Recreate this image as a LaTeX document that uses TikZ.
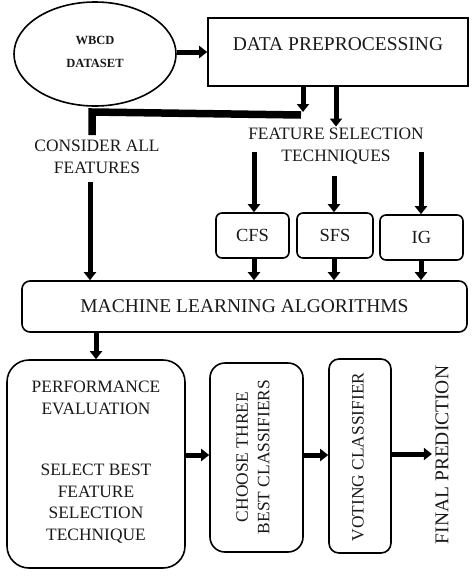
\documentclass[tikz,border=0pt]{standalone}
\usepackage{fontspec}
\setmainfont{Liberation Serif}
\usetikzlibrary{arrows.meta,shapes.geometric}
\tikzset{
  box/.style={draw=black, line width=1.6pt, inner sep=0pt},
  rbox/.style={box, rounded corners=#1},
  conn/.style={line width=5pt, -{Triangle[length=8pt,width=12pt]}},
  bigtxt/.style={font=\fontsize{19.5}{23}\selectfont, text=black!90},
  txt/.style={font=\fontsize{17.4}{21.5}\selectfont, text=black!90, align=center},
  smtxt/.style={font=\fontsize{18.5}{22}\selectfont, text=black!90},
}
\begin{document}
\begin{tikzpicture}[x=1pt,y=-1pt]
\useasboundingbox (0,0) rectangle (474,582);
% nodes
\node[box, ellipse, minimum width=162pt, minimum height=104pt] (ell) at (95,54) {};
\node[font=\bfseries\fontsize{12.5}{23}\selectfont, align=center, text=black!90] (elltxt) at (95,52) {WBCD\\DATASET};
\node[box, minimum width=260pt, minimum height=68pt] (pp) at (338,52) {};
\node[bigtxt] (pptxt) at (338,44) {DATA PREPROCESSING};
\node[txt] (cons) at (97,157) {CONSIDER ALL\\FEATURES};
\node[txt] (fst) at (336,146) {FEATURE SELECTION\\TECHNIQUES};
\node[rbox=6pt, minimum width=73pt, minimum height=45pt, smtxt] (cfs) at (252.5,235.5) {CFS};
\node[rbox=6pt, minimum width=76pt, minimum height=45pt, smtxt] (sfs) at (335,235.5) {SFS};
\node[rbox=6pt, minimum width=83pt, minimum height=45pt, smtxt] (ig) at (421.5,237.5) {IG};
\node[rbox=8pt, minimum width=445pt, minimum height=51pt, bigtxt] (ml) at (244.5,306.5) {MACHINE LEARNING ALGORITHMS};
\node[rbox=22pt, minimum width=178pt, minimum height=208pt] (perf) at (96,464) {};
\node[txt] (perftxt) at (96,462) {PERFORMANCE\\EVALUATION\\[40pt]SELECT BEST\\FEATURE\\SELECTION\\TECHNIQUE};
\node[rbox=15pt, minimum width=93pt, minimum height=189pt] (choose) at (256.5,457.5) {};
\node[txt, rotate=90] (choosetxt) at (253,457) {CHOOSE THREE\\BEST CLASSIFIERS};
\node[rbox=10pt, minimum width=62pt, minimum height=194pt] (voting) at (360,456) {};
\node[txt, rotate=90] (votingtxt) at (358,457) {VOTING CLASSIFIER};
\node[bigtxt, rotate=90] (final) at (442,455) {FINAL PREDICTION};
% coordinates
\coordinate (j) at (303,112);
\coordinate (jl) at (92,112);
\coordinate (jd) at (92,135);
\coordinate (c1) at (254,152);
\coordinate (c2) at (334,176);
\coordinate (c3) at (421,152);
\coordinate (c0) at (90,182);
% connectors
\draw[conn] (ell.east |- pp.west) -- (pp.west);
\draw[conn] (pp.south -| j) -- (j);
\draw[line width=7.5pt] ([xshift=-2pt,yshift=-3pt]j) -- (jl) -- (jd);
\draw[conn] (pp.south -| fst) -- ([yshift=-2pt]fst.north);
\draw[conn] (c1) -- (cfs.north -| c1);
\draw[conn] (c2) -- (sfs.north -| c2);
\draw[conn] (c3) -- (ig.north -| c3);
\draw[conn] (cfs.south -| c1) -- (ml.north -| c1);
\draw[conn] (sfs.south -| c2) -- (ml.north -| c2);
\draw[conn] (ig.south -| c3) -- (ml.north -| c3);
\draw[conn] (c0) -- (ml.north -| c0);
\draw[conn] (ml.south -| perf) -- (perf.north);
\draw[conn] (perf.east |- 0,455) -- (choose.west |- 0,455);
\draw[conn] (choose.east |- 0,455) -- (voting.west |- 0,455);
\draw[conn] (voting.east |- 0,454) -- (final.north |- 0,454);
\end{tikzpicture}
\end{document}
